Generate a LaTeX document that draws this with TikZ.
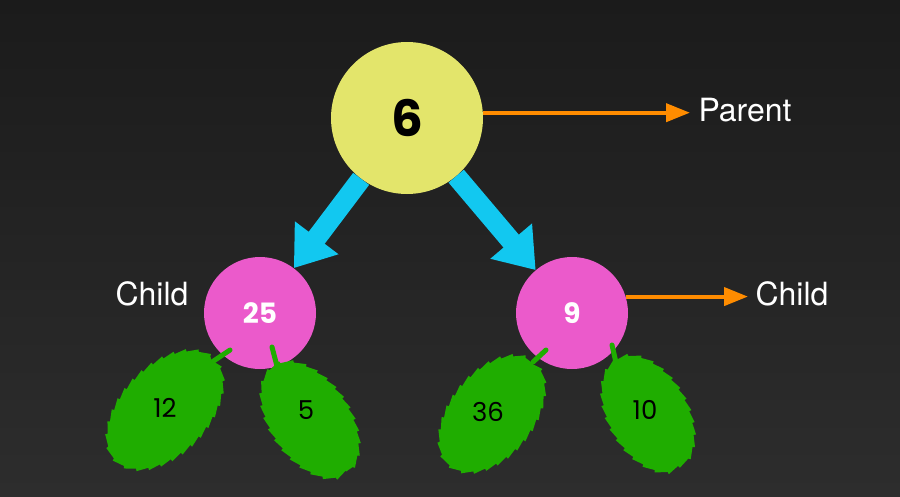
\documentclass[tikz,border=0pt]{standalone}
\usepackage{fontspec}
\setmainfont{Poppins}
\newfontfamily\hand{TeX Gyre Heros}
\usetikzlibrary{arrows.meta,shapes.geometric,decorations.pathmorphing}
\definecolor{bgtop}{HTML}{1B1B1B}
\definecolor{bgbot}{HTML}{2D2D2D}
\definecolor{rootc}{HTML}{E3E56B}
\definecolor{kidc}{HTML}{EB5ACB}
\definecolor{leafc}{HTML}{1FAD00}
\definecolor{cyanc}{HTML}{12C8F0}
\definecolor{orangec}{HTML}{FF8C00}
\tikzset{
  x=1pt,y=-1pt,
  kid/.style={circle,fill=kidc,minimum size=112pt,inner sep=0,text=white,font=\bfseries\fontsize{28}{30}\selectfont},
  bigarrow/.style={cyanc,line width=20pt,-{Triangle[length=38pt,width=52pt]}},
  lbl/.style={orangec,line width=4pt,-{Triangle[length=24pt,width=18pt]}},
  tag/.style={text=white,font=\hand\fontsize{32}{34}\selectfont},
  leaf/.style={fill=leafc,decorate,decoration={saw,segment length=12pt,amplitude=2.5pt}},
  stem/.style={leafc,line width=5pt,line cap=round},
  num/.style={font=\fontsize{26}{28}\selectfont,text=black}
}
\begin{document}
\begin{tikzpicture}
\shade[top color=bgtop,bottom color=bgbot] (0,0) rectangle (900,496);
\useasboundingbox (0,0) rectangle (900,496);
\node[circle,fill=rootc,minimum size=152pt,inner sep=0,font=\bfseries\fontsize{50}{52}\selectfont] (root) at (407,118) {6};
\node[kid] (a) at (260,313) {25};
\node[kid] (b) at (572,313) {9};
\draw[bigarrow] (root) -- (a);
\draw[bigarrow] (root) -- (b);
\node[tag,anchor=west] (p) at (695,110) {Parent};
\node[tag,anchor=west] (cr) at (752,294) {Child};
\node[tag,anchor=east] (cl) at (192,294) {Child};
\draw[lbl] (root.4) -- ([xshift=-5pt]root.4 -| p.west);
\draw[lbl] (b.17) -- ([xshift=-4pt]b.17 -| cr.west);
% leaves
\draw[stem] (212,362) -- (230,350);
\fill[leaf,rotate around={47:(165,410)}] (165,410) ellipse (68 and 42);
\node[num] (l1) at (165,408) {12};
\draw[stem] (278,370) -- (272,347);
\fill[leaf,rotate around={-55:(310,420)}] (310,420) ellipse (62 and 38);
\node[num] (l2) at (306,410) {5};
\draw[stem] (533,362) -- (546,350);
\fill[leaf,rotate around={52:(492,414)}] (492,414) ellipse (64 and 40);
\node[num] (l3) at (488,412) {36};
\draw[stem] (617,367) -- (612,345);
\fill[leaf,rotate around={-60:(648,414)}] (648,414) ellipse (60 and 38);
\node[num] (l4) at (645,410) {10};
\end{tikzpicture}
\end{document}
